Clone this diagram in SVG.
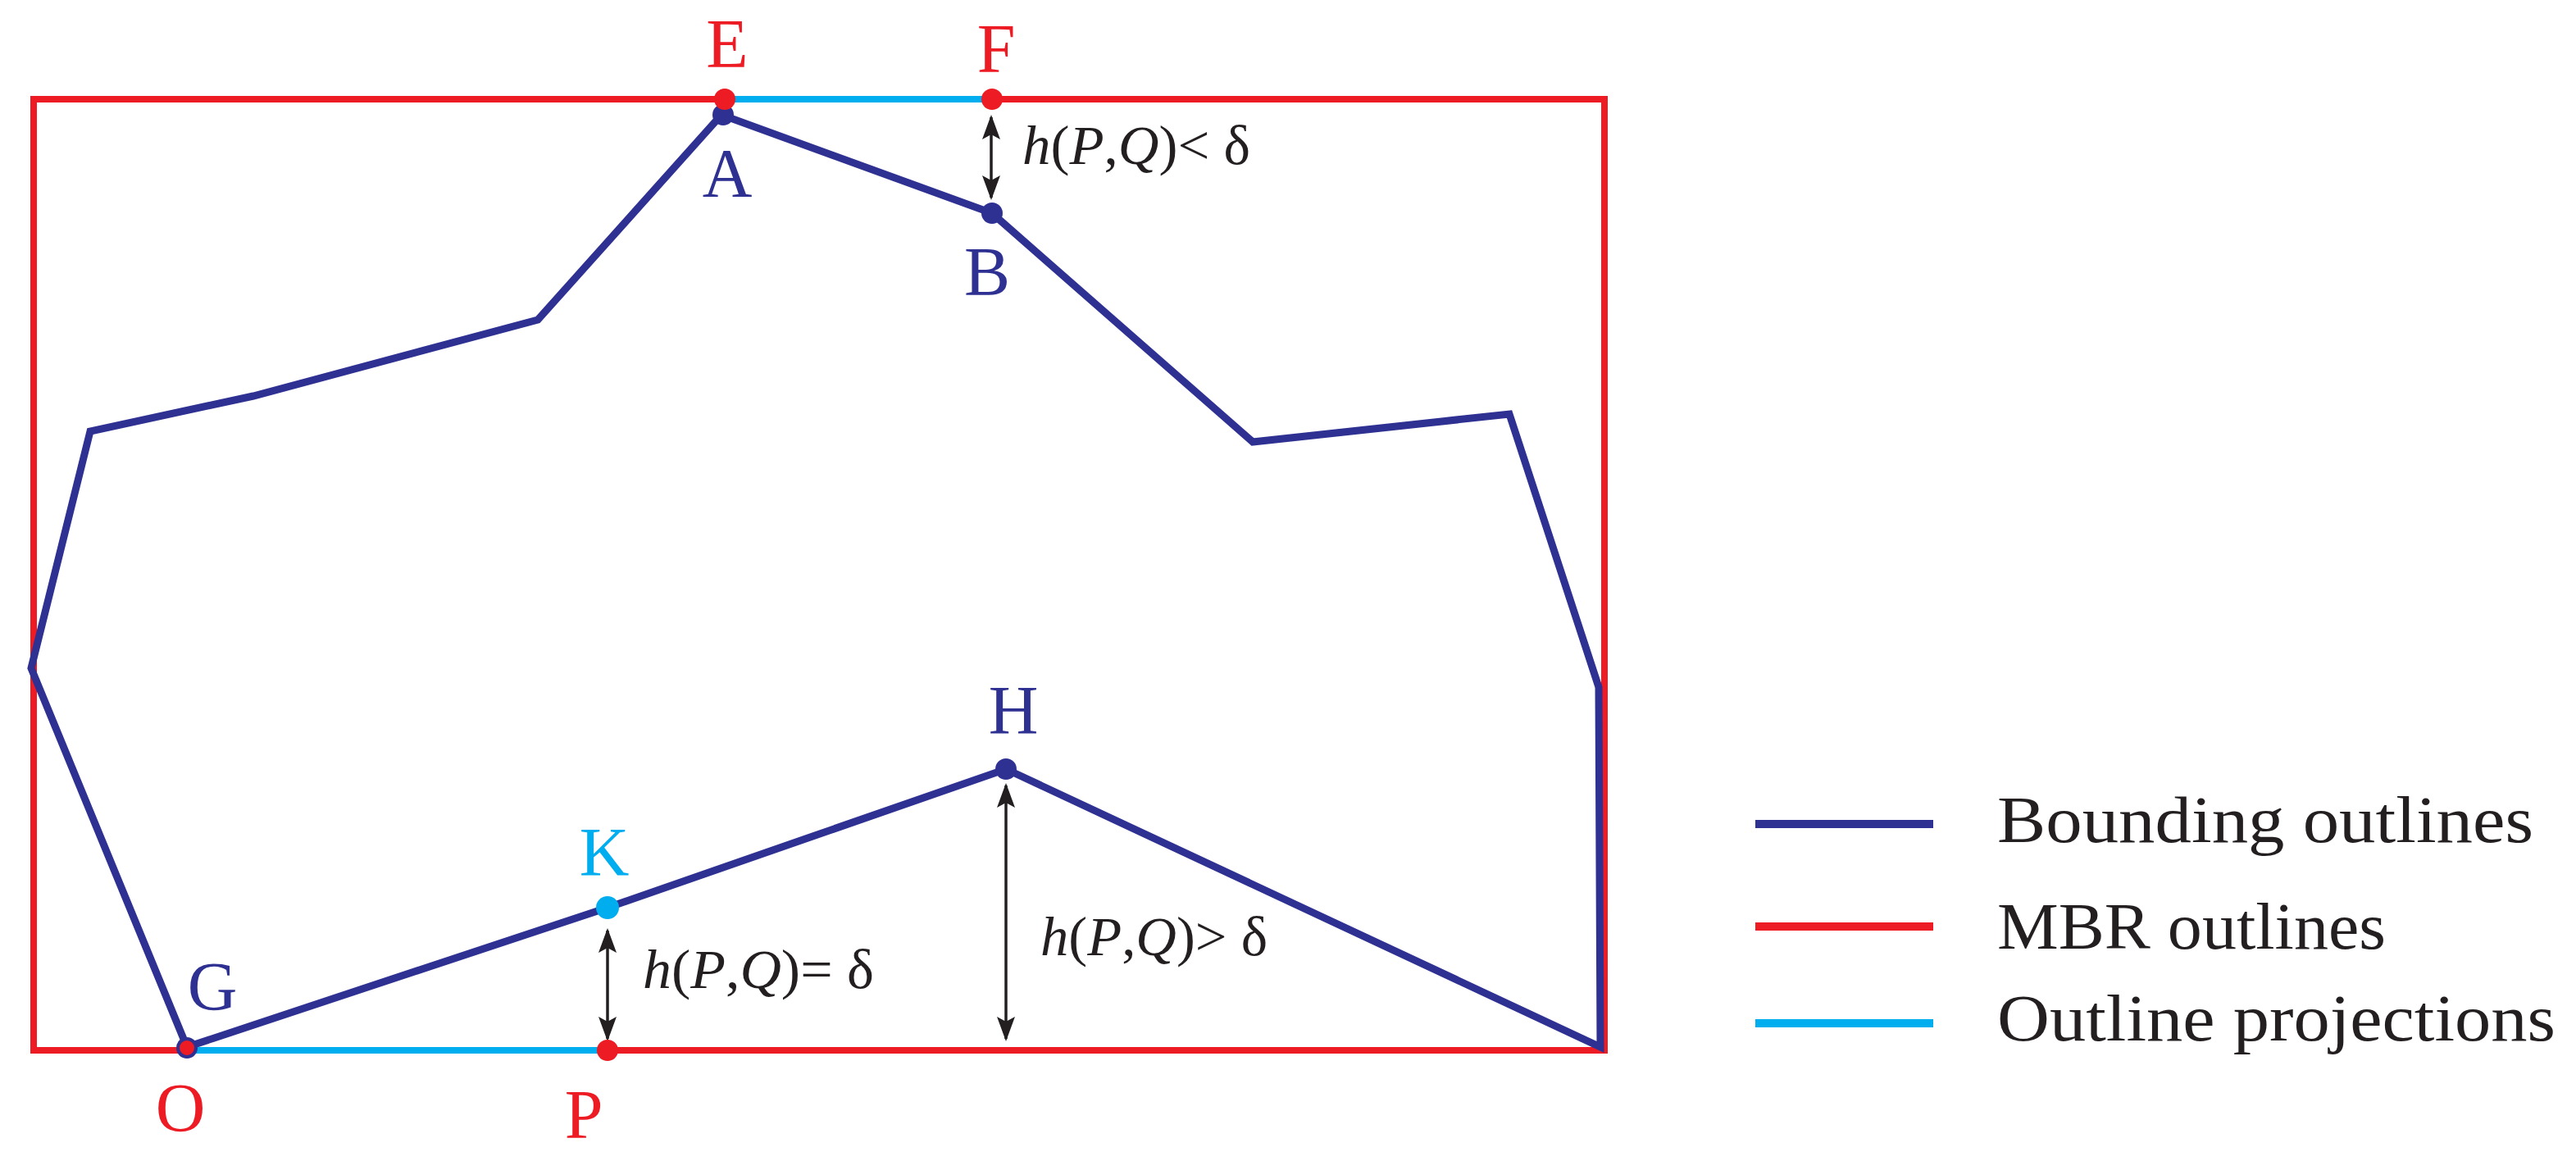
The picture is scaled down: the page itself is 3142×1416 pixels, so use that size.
<svg xmlns="http://www.w3.org/2000/svg" width="3142" height="1416" viewBox="0 0 3142 1416">
<style>
.mbr{fill:none;stroke:#ed1c24;stroke-width:8}
.bnd{fill:none;stroke:#2e3192;stroke-width:9;stroke-linejoin:miter}
.proj{stroke:#00aeef;stroke-width:8}
.lbl{font-family:"Liberation Serif",serif;font-size:84px;text-anchor:middle}
.red{fill:#ed1c24}
.blue{fill:#2e3192}
.cyan{fill:#00aeef}
.math{font-family:"Liberation Serif",serif;font-size:68px;fill:#231f20}
.it{font-style:italic}
.leg{font-family:"Liberation Serif",serif;font-size:80px;fill:#231f20}
.dim{stroke:#231f20;stroke-width:3.5;marker-start:url(#ah);marker-end:url(#ah)}
</style>
<defs>
<marker id="ah" viewBox="0 0 30 22" refX="27" refY="11" markerWidth="30" markerHeight="22" markerUnits="userSpaceOnUse" orient="auto-start-reverse">
<path d="M0,0 L30,11 L0,22 L6,11 Z" fill="#231f20"/>
</marker>
</defs>
<rect width="3142" height="1416" fill="#ffffff"/>
<g id="mbr">
<rect class="mbr" x="41" y="121" width="1916" height="1160"/>
</g>
<g id="bounding-outline">
<polygon class="bnd" points="880,140 656,390 309,483 110,526 38,815 228,1277 741,1107 1227,938 1952,1277 1950,838 1841,505 1528,539 1210,260"/>
</g>
<g id="projections">
<line class="proj" x1="884" y1="121" x2="1210" y2="121"/>
<line class="proj" x1="228" y1="1281" x2="741" y2="1281"/>
</g>
<g id="connectors">
<line class="dim" x1="1209" y1="143" x2="1209" y2="241"/>
<line class="dim" x1="741" y1="1135" x2="741" y2="1267"/>
<line class="dim" x1="1227" y1="958" x2="1227" y2="1267"/>
</g>
<g id="node-A"><circle class="blue" cx="882" cy="140" r="13"/><text class="lbl blue" x="887" y="240">A</text></g>
<g id="node-B"><circle class="blue" cx="1210" cy="260" r="13"/><text class="lbl blue" x="1204" y="360">B</text></g>
<g id="node-H"><circle class="blue" cx="1227" cy="938" r="13"/><text class="lbl blue" x="1236" y="895">H</text></g>
<g id="node-K"><circle class="cyan" cx="741" cy="1107" r="14"/><text class="lbl cyan" x="737" y="1068">K</text></g>
<g id="node-G"><circle class="red" cx="228" cy="1278" r="11" stroke="#2e3192" stroke-width="4"/><text class="lbl blue" x="259" y="1232">G</text></g>
<g id="node-E"><circle class="red" cx="884" cy="121" r="13"/><text class="lbl red" x="887" y="82">E</text></g>
<g id="node-F"><circle class="red" cx="1210" cy="121" r="13"/><text class="lbl red" x="1215" y="88">F</text></g>
<g id="node-P"><circle class="red" cx="741" cy="1281" r="13"/><text class="lbl red" x="712" y="1388">P</text></g>
<g id="node-O"><text class="lbl red" x="220" y="1380">O</text></g>
<g id="labels">
<text class="math" x="1247" y="200" textLength="278" lengthAdjust="spacingAndGlyphs"><tspan class="it">h</tspan>(<tspan class="it">P</tspan>,<tspan class="it">Q</tspan>)&lt; δ</text>
<text class="math" x="784" y="1205" textLength="282" lengthAdjust="spacingAndGlyphs"><tspan class="it">h</tspan>(<tspan class="it">P</tspan>,<tspan class="it">Q</tspan>)= δ</text>
<text class="math" x="1269" y="1165" textLength="277" lengthAdjust="spacingAndGlyphs"><tspan class="it">h</tspan>(<tspan class="it">P</tspan>,<tspan class="it">Q</tspan>)&gt; δ</text>
</g>
<g id="legend">
<line x1="2141" y1="1005" x2="2358" y2="1005" stroke="#2e3192" stroke-width="10"/>
<text class="leg" x="2436" y="1027" textLength="654" lengthAdjust="spacingAndGlyphs">Bounding outlines</text>
<line x1="2141" y1="1130" x2="2358" y2="1130" stroke="#ed1c24" stroke-width="10"/>
<text class="leg" x="2436" y="1157" textLength="474" lengthAdjust="spacingAndGlyphs">MBR outlines</text>
<line x1="2141" y1="1248" x2="2358" y2="1248" stroke="#00aeef" stroke-width="10"/>
<text class="leg" x="2436" y="1269" textLength="681" lengthAdjust="spacingAndGlyphs">Outline projections</text>
</g>
</svg>
